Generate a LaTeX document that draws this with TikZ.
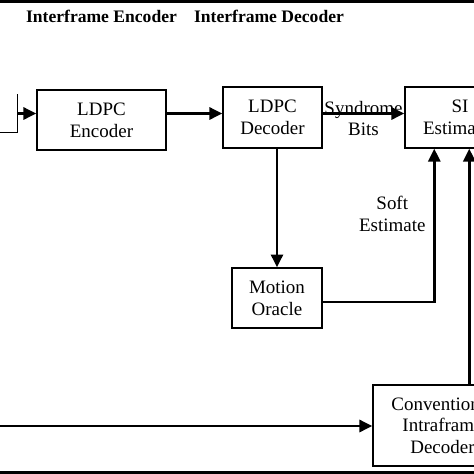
\documentclass[tikz,border=0pt]{standalone}
\usepackage{fontspec}
\setmainfont{Liberation Serif}
\usetikzlibrary{positioning, arrows.meta}

\begin{document}
\begin{tikzpicture}[
  block/.style={
    draw=black,
    line width=1pt,
    align=center,
    inner sep=0pt,
    font=\fontsize{13.5}{15.6}\selectfont
  },
  arrow/.style={
    -{Triangle[length=3.2mm, width=3mm]},
    line width=1.9pt
  },
  lbl/.style={
    font=\fontsize{13.5}{15.6}\selectfont,
    align=center
  },
  heading/.style={
    font=\fontsize{12.5}{15}\selectfont\bfseries
  }
]

\useasboundingbox (0,0) rectangle (11.85,-11.85);
\fill[black] (0,0) rectangle (11.85,-0.075);
\fill[black] (0,-11.775) rectangle (11.85,-11.85);

\node[heading] (tenc) at (2.5375,-0.42) {Interframe Encoder};
\node[heading] (tdec) at (6.725,-0.42)  {Interframe Decoder};

\node[block, draw=none, minimum width=1.5cm, minimum height=0.925cm] (in) at (-0.325,-2.8375) {};
\draw[line width=1pt] (in.north east) -- (in.south east) -- (in.south west);

\node[block, minimum width=3.225cm, minimum height=1.5cm]   (enc)  at (2.5375,-3.0)     {LDPC\\Encoder};
\node[block, minimum width=2.475cm, minimum height=1.525cm] (dec)  at (6.8125,-2.9375)  {LDPC\\Decoder};
\node[block, minimum width=2.75cm,  minimum height=1.525cm] (si)   at (11.5,-2.9375)    {SI\\Estimator};
\node[block, minimum width=2.25cm,  minimum height=1.5cm]   (mo)   at (6.925,-7.45)     {Motion\\Oracle};
\node[block, minimum width=3.475cm, minimum height=2.025cm] (conv) at (11.0625,-10.6375) {Conventional\\Intraframe\\Decoder};

\coordinate (src)   at (0,-10.65);
\coordinate (sibot) at ([xshift=0.75cm]si.south west);
\coordinate (cvtop) at ([xshift=2.425cm]conv.north west);

\draw[arrow] (in.east) -- (enc.west |- in.east);
\draw[arrow] (enc.east |- in.east) -- (dec.west |- in.east);
\draw[arrow] (dec.east |- in.east) -- node[lbl, yshift=-0.125cm] {Syndrome\\Bits} (si.west |- in.east);
\draw[arrow] (dec.south -| mo.north) -- (mo.north);
\draw[arrow] ([yshift=-0.1cm]mo.east) -| node[lbl, left, pos=0.786, xshift=-0.07cm] {Soft\\Estimate} (sibot);
\draw[arrow] (cvtop) -- (cvtop |- si.south);
\draw[arrow] (src) -- (conv.west |- src);

\end{tikzpicture}
\end{document}
